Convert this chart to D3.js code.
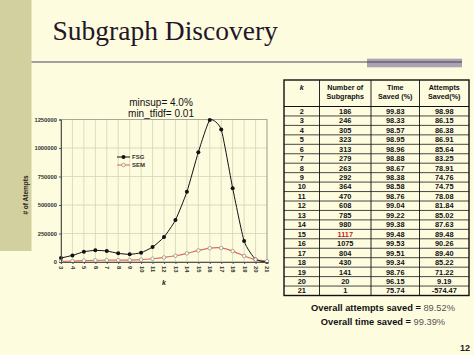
<!DOCTYPE html>
<html><head><meta charset="utf-8">
<script src="https://cdn.jsdelivr.net/npm/d3@7"></script>
<style>html,body{margin:0;padding:0;background:#fefcdf;}svg{display:block;}</style>
</head><body>
<svg id="c" width="474" height="355"></svg>
<script>
// ---- data ----
const kValues = [3,4,5,6,7,8,9,10,11,12,13,14,15,16,17,18,19,20,21];
const fsgAttempts = [35000,58000,90000,102000,96000,76000,67000,82000,131000,219000,368000,616000,963000,1245000,1162000,648000,184000,23000,1000];
const semAttempts = [4800,7900,11800,14600,16100,16000,16900,20700,28700,39800,55100,76200,101300,121300,123200,95800,53000,20900,6700];
const yTicks = [0,250000,500000,750000,1000000,1250000];
const seriesNames = ["FSG","SEM"];

const tableK = [2,3,4,5,6,7,8,9,10,11,12,13,14,15,16,17,18,19,20,21];
const tableSubgraphs = ["186","246","305","323","313","279","263","292","364","470","608","785","980","1117","1075","804","430","141","20","1"];
const tableTime = ["99.83","98.33","98.57","98.95","98.96","98.88","98.67","98.38","98.58","98.76","99.04","99.22","99.38","99.48","99.53","99.51","99.34","98.76","96.15","75.74"];
const tableAttempts = ["98.98","86.15","86.38","86.91","85.64","83.25","78.91","74.76","74.75","78.08","81.84","85.02","87.63","89.48","90.26","89.40","85.22","71.22","9.19","-574.47"];
const tableHeaders = [["k"],["Number of","Subgraphs"],["Time","Saved (%)"],["Attempts","Saved(%)"]];

const svg = d3.select("#c");
const AR = "Liberation Sans, Arial, sans-serif";

// ---- slide decoration ----
svg.append("rect").attr("x",0).attr("y",0).attr("width",474).attr("height",355).attr("fill","#fefcdf");
svg.append("rect").attr("x",0).attr("y",0).attr("width",31.5).attr("height",251).attr("fill","#d3d09f");
svg.append("text").attr("x",52.5).attr("y",39.5).attr("font-family","Liberation Serif, Times New Roman, serif")
  .attr("font-size",27.5).attr("fill","#24162a").text("Subgraph Discovery");
svg.append("rect").attr("x",367).attr("y",58.7).attr("width",95).attr("height",8.6).attr("fill","#aaa4b2");
svg.append("line").attr("x1",31.5).attr("x2",462).attr("y1",62).attr("y2",62).attr("stroke","#4d3d58").attr("stroke-width",1.1);

// ---- chart ----
const x = d3.scalePoint().domain(kValues).range([61,267]);
const y = d3.scaleLinear().domain([0,1250000]).range([262,119.5]);

const g = svg.append("g");
g.selectAll(".hg").data(yTicks).enter().append("line")
  .attr("x1",61).attr("x2",267).attr("y1",d=>y(d)).attr("y2",d=>y(d))
  .attr("stroke","#d6d3b8").attr("stroke-width",0.8);
g.selectAll(".vg").data(kValues).enter().append("line")
  .attr("x1",d=>x(d)).attr("x2",d=>x(d)).attr("y1",119.5).attr("y2",262)
  .attr("stroke","#d6d3b8").attr("stroke-width",0.8);
g.append("rect").attr("x",61).attr("y",119.5).attr("width",206).attr("height",142.5)
  .attr("fill","none").attr("stroke","#9a9a90").attr("stroke-width",0.8);

const yAxis = d3.axisLeft(y).tickValues(yTicks).tickSize(2).tickFormat(d=>String(d));
const ya = svg.append("g").attr("transform","translate(61,0)").call(yAxis);
ya.select(".domain").attr("stroke","#555");
ya.selectAll(".tick line").attr("stroke","#555");
ya.selectAll("text").attr("font-family",AR).attr("font-size",5.8).attr("font-weight","bold").attr("fill","#333").attr("x",-4);

const xAxis = d3.axisBottom(x).tickSize(2);
const xa = svg.append("g").attr("transform","translate(0,262)").call(xAxis);
xa.select(".domain").attr("stroke","#555");
xa.selectAll(".tick line").attr("stroke","#555");
xa.selectAll("text").attr("font-family",AR).attr("font-size",5.8).attr("font-weight","bold").attr("fill","#333")
  .attr("transform","rotate(90)").attr("text-anchor","start").attr("x",4).attr("y",0).attr("dy","0.35em");

const line = d3.line().x((d,i)=>x(kValues[i])).y(d=>y(d)).curve(d3.curveCardinal.tension(0.45));
g.append("path").datum(semAttempts).attr("d",line).attr("fill","none").attr("stroke","#e06a6a").attr("stroke-width",1.2);
g.append("path").datum(fsgAttempts).attr("d",line).attr("fill","none").attr("stroke","#111").attr("stroke-width",1);
g.selectAll(".fm").data(fsgAttempts).enter().append("circle")
  .attr("cx",(d,i)=>x(kValues[i])).attr("cy",d=>y(d)).attr("r",2).attr("fill","#111");
g.selectAll(".sm").data(semAttempts).enter().append("circle")
  .attr("cx",(d,i)=>x(kValues[i])).attr("cy",d=>y(d)).attr("r",1.8).attr("fill","#fefcdf").attr("stroke","#888").attr("stroke-width",0.7);

const lg = svg.append("g");
lg.append("line").attr("x1",117).attr("x2",130).attr("y1",157).attr("y2",157).attr("stroke","#111");
lg.append("circle").attr("cx",123.5).attr("cy",157).attr("r",2).attr("fill","#111");
lg.append("line").attr("x1",117).attr("x2",130).attr("y1",165).attr("y2",165).attr("stroke","#e06a6a").attr("stroke-width",1.1);
lg.append("circle").attr("cx",123.5).attr("cy",165).attr("r",1.8).attr("fill","#fefcdf").attr("stroke","#888").attr("stroke-width",0.7);
lg.selectAll("text").data(seriesNames).enter().append("text")
  .attr("x",132).attr("y",(d,i)=>157+i*8).attr("dy","0.35em")
  .attr("font-family",AR).attr("font-size",6).attr("font-weight","bold").attr("fill","#333").text(d=>d);

svg.append("text").attr("x",161).attr("y",106).attr("text-anchor","middle").attr("font-family",AR).attr("font-size",10).attr("fill","#111").text("minsup= 4.0%");
svg.append("text").attr("x",161).attr("y",117).attr("text-anchor","middle").attr("font-family",AR).attr("font-size",10).attr("fill","#111").text("min_tfidf= 0.01");
svg.append("text").attr("transform","translate(27.5,195) rotate(-90)").attr("text-anchor","middle")
  .attr("font-family",AR).attr("font-size",6.5).attr("font-weight","bold").attr("fill","#222").text("# of Atempts");
svg.append("text").attr("x",164).attr("y",285).attr("text-anchor","middle").attr("font-family",AR).attr("font-size",7)
  .attr("font-weight","bold").attr("font-style","italic").attr("fill","#222").text("k");

// ---- table ----
const colX = [284,319.5,371,419.5,469];
const tTop = 80, hBot = 106.5, rowH = 9.45;
const tb = svg.append("g");
tb.append("rect").attr("x",colX[0]).attr("y",tTop).attr("width",colX[4]-colX[0]).attr("height",hBot+rowH*tableK.length-tTop).attr("fill","#fefcdf");
const rowLines = d3.range(1,tableK.length);
tb.selectAll(".rl").data(rowLines).enter().append("line")
  .attr("x1",colX[0]).attr("x2",colX[4]).attr("y1",d=>hBot+d*rowH).attr("y2",d=>hBot+d*rowH)
  .attr("stroke","#333").attr("stroke-width",0.9);
tb.append("line").attr("x1",colX[0]).attr("x2",colX[4]).attr("y1",hBot).attr("y2",hBot).attr("stroke","#111").attr("stroke-width",1.2);
tb.selectAll(".cl").data(colX.slice(1,4)).enter().append("line")
  .attr("x1",d=>d).attr("x2",d=>d).attr("y1",tTop).attr("y2",hBot+rowH*tableK.length).attr("stroke","#111").attr("stroke-width",0.9);
tb.append("rect").attr("x",colX[0]).attr("y",tTop).attr("width",colX[4]-colX[0]).attr("height",hBot+rowH*tableK.length-tTop)
  .attr("fill","none").attr("stroke","#111").attr("stroke-width",1.4);
tableHeaders.forEach((h,ci)=>{
  const cx=(colX[ci]+colX[ci+1])/2;
  h.forEach((t,li)=>{
    tb.append("text").attr("x",cx).attr("y",h.length===1?90:89.5+li*9).attr("text-anchor","middle")
      .attr("font-family",AR).attr("font-size",7.2).attr("font-weight","bold")
      .attr("font-style",ci===0?"italic":"normal").attr("fill","#111").text(t);
  });
});
const cols=[tableK.map(String),tableSubgraphs,tableTime,tableAttempts];
cols.forEach((col,ci)=>{
  const cx=(colX[ci]+colX[ci+1])/2;
  tb.selectAll(".c"+ci).data(col).enter().append("text")
    .attr("x",cx).attr("y",(d,i)=>hBot+i*rowH+rowH/2).attr("dy","0.36em").attr("text-anchor","middle")
    .attr("font-family",AR).attr("font-size",7.4).attr("font-weight","bold")
    .attr("fill",d=>(ci===1&&d==="1117")?"#c81e1e":"#111").text(d=>d);
});

const s1 = svg.append("text").attr("x",383).attr("y",311).attr("text-anchor","middle").attr("font-family",AR).attr("font-size",9.3);
s1.append("tspan").attr("font-weight","bold").attr("fill","#111").text("Overall attempts saved = ");
s1.append("tspan").attr("fill","#555").text("89.52%");
const s2 = svg.append("text").attr("x",383).attr("y",324.5).attr("text-anchor","middle").attr("font-family",AR).attr("font-size",9.3);
s2.append("tspan").attr("font-weight","bold").attr("fill","#111").text("Overall time saved = ");
s2.append("tspan").attr("fill","#555").text("99.39%");
svg.append("text").attr("x",470).attr("y",351).attr("text-anchor","end").attr("font-family",AR).attr("font-size",9).attr("font-weight","bold").attr("fill","#222").text("12");
</script>
</body></html>
